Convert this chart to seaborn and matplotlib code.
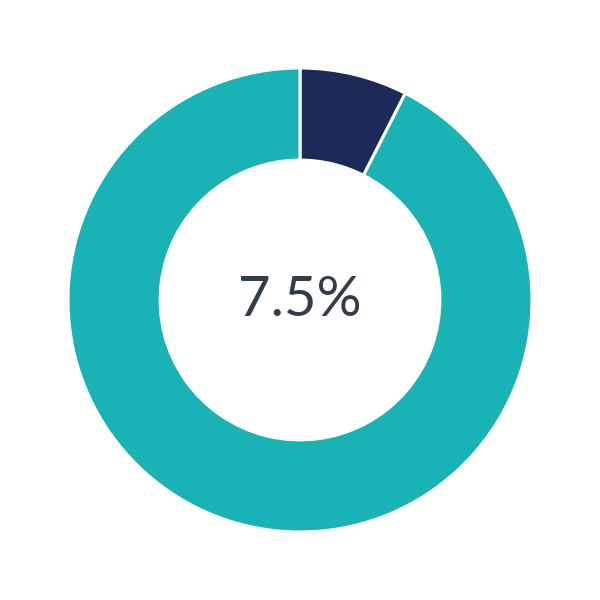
import matplotlib
matplotlib.use("Agg")
import matplotlib.pyplot as plt
import seaborn as sns

labels = ["Share", "Rest"]
values = [7.5, 92.5]
colors = ["#1c2a5a", "#1ab3b5"]
center_label = "7.5%"

sns.set_theme(style="white")
plt.rcParams['font.family'] = ['Lato', 'DejaVu Sans']

fig = plt.figure(figsize=(6, 6), dpi=100)
ax = fig.add_axes([0, 0, 1, 1])
ax.pie(values, colors=colors, startangle=90, counterclock=False,
       wedgeprops=dict(width=0.397, edgecolor="white", linewidth=2.2))
lim = 300 / 232
ax.set_xlim(-lim, lim)
ax.set_ylim(-lim, lim)
ax.set_aspect("equal")
ax.axis("off")
ax.text(0, 0.0, center_label, ha="center", va="center", fontsize=40.5, color="#333d4a")
fig.savefig("out.png", dpi=100, facecolor="white")
